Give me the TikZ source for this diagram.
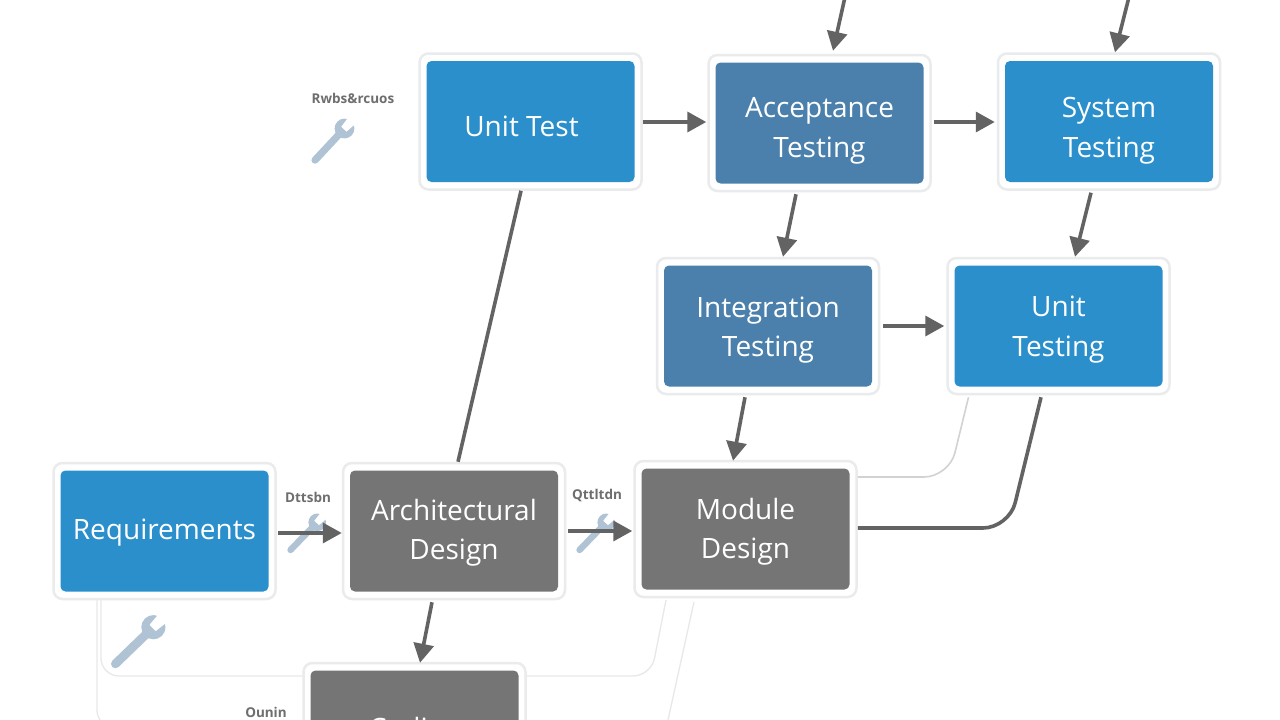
\documentclass[tikz,border=0pt]{standalone}
\usepackage{fontspec}
\setmainfont{Open Sans}
\usetikzlibrary{arrows.meta}
\definecolor{bluebox}{HTML}{2A8FCB}
\definecolor{steelbox}{HTML}{4A80AB}
\definecolor{greybox}{HTML}{757575}
\definecolor{framec}{HTML}{EAEBEC}
\definecolor{arrowc}{HTML}{636363}
\definecolor{thinc}{HTML}{E8E8E8}
\definecolor{curvec}{HTML}{D2D2D2}
\definecolor{toolc}{HTML}{AFC3D5}
\definecolor{smallc}{HTML}{6E6E6E}
\tikzset{
  framebox/.style={draw=framec,line width=2.5pt,fill=white,rounded corners=9pt,minimum width=222pt,minimum height=136pt,inner sep=0pt},
  innerbox/.style={rounded corners=5pt,minimum width=208pt,minimum height=121pt,inner sep=0pt},
  boxtext/.style={text=white,align=center,inner sep=0pt,font=\fontsize{28}{39.5}\selectfont},
  flow/.style={draw=arrowc,line width=3.6pt,-{Triangle[length=19pt,width=20pt]}},
  link/.style={draw=arrowc,line width=3.6pt},
  faint/.style={draw=thinc,line width=1.3pt,rounded corners=18pt},
  small/.style={text=smallc,font=\fontsize{13.5}{15}\selectfont\bfseries,inner sep=0pt},
}
\newcommand{\wrenchtool}[4]{%
  \begin{scope}[shift={(#1,#2)},rotate=#3,scale=#4]
    \draw[toolc,line width=#4*8pt,line cap=round] (-26,0) -- (16,0);
    \fill[toolc] (22,0) circle[radius=11];
    \fill[white] (21,-4) -- (36,-5.5) -- (36,5.5) -- (21,4) -- cycle;
  \end{scope}}
\begin{document}
\begin{tikzpicture}[x=1pt,y=-1pt]
\useasboundingbox (0,0) rectangle (1280,720);
\clip (0,0) rectangle (1280,720);
\fill[white] (0,0) rectangle (1280,720);
% faint outline curves
\draw[faint] (101,600) -- (101,676) -- (303,676);
\draw[faint] (526,676) -- (651,676) -- (666,600);
\draw[faint] (97,600) -- (97,728) -- (300,728);
\draw[faint] (694,602) -- (668,720);
% tools
\wrenchtool{331}{143}{47}{0.9}
\wrenchtool{136}{644}{44}{1.1}
\wrenchtool{305}{535}{46}{0.8}
\wrenchtool{594}{535}{46}{0.8}
% boxes
\node[framebox] (ut) at (530.5,121.5) {};
\node[innerbox,fill=bluebox] (utb) at (ut) {};
\node[boxtext] (utx) at ([xshift=-9pt,yshift=-5pt]ut) {Unit Test};
\node[framebox] (at) at (819.5,123) {};
\node[innerbox,fill=steelbox] (atb) at (at) {};
\node[boxtext] (atx) at ([yshift=-8pt]at) {Acceptance\\Testing};
\node[framebox] (st) at (1109,121.5) {};
\node[innerbox,fill=bluebox] (stb) at (st) {};
\node[boxtext] (stx) at ([yshift=-9pt]st) {System\\Testing};
\node[framebox] (it) at (768,326) {};
\node[innerbox,fill=steelbox] (itb) at (it) {};
\node[boxtext] (itx) at ([yshift=-4pt]it) {Integration\\Testing};
\node[framebox] (un) at (1058.5,326) {};
\node[innerbox,fill=bluebox] (unb) at (un) {};
\node[boxtext] (unx) at ([yshift=-3.5pt]un) {Unit\\Testing};
\node[framebox] (rq) at (164.5,531) {};
\node[innerbox,fill=bluebox] (rqb) at (rq) {};
\node[boxtext] (rqx) at ([yshift=-2pt]rq) {Requirements};
\node[framebox] (ar) at (454,531) {};
\node[innerbox,fill=greybox] (arb) at (ar) {};
\node[boxtext] (arx) at ([yshift=-1.5pt]ar) {Architectural\\Design};
\node[framebox] (md) at (745.5,529) {};
\node[innerbox,fill=greybox] (mdb) at (md) {};
\node[boxtext] (mdx) at ([yshift=-2.5pt]md) {Module\\Design};
\node[framebox] (cd) at (414.5,731) {};
\node[innerbox,fill=greybox] (cdb) at (cd) {};
\node[boxtext] (cdx) at (cd) {Coding};
% free ends at the top edge
\coordinate (topa) at (845,-3);
\coordinate (topb) at (1129,-3);
% connectors
\draw[flow] (topa) -- ([xshift=13.5pt,yshift=3pt]at.north);
\draw[flow] (topb) -- ([xshift=6pt,yshift=0pt]st.north);
\draw[flow] ([yshift=-0.5pt]ut.east) -- ([xshift=-1pt,yshift=1pt]at.west);
\draw[flow] ([xshift=2pt,yshift=1pt]at.east) -- ([xshift=-2pt,yshift=-0.5pt]st.west);
\draw[flow] ([xshift=3pt]it.east) -- ([xshift=-2pt]un.west);
\draw[flow] ([xshift=-23.5pt,yshift=-2pt]at.south) -- ([xshift=15pt,yshift=0pt]it.north);
\draw[flow] ([xshift=-18pt,yshift=-2pt]st.south) -- ([xshift=16.5pt,yshift=0pt]un.north);
\draw[flow] ([xshift=-23pt,yshift=-2pt]it.south) -- ([xshift=-12.5pt,yshift=-1pt]md.north);
\draw[link] ([xshift=-9.5pt]ut.south) -- ([xshift=4pt]ar.north);
\draw[flow] ([xshift=1.5pt,yshift=-2pt]rq.east) -- (ar.west|-{0,533});
\draw[flow] ([xshift=2pt]ar.east) -- ([xshift=-1pt,yshift=-2pt]md.west);
\draw[flow] ([xshift=-22pt,yshift=-2pt]ar.south) -- ([xshift=5.5pt,yshift=-1pt]cd.north);
\draw[draw=curvec,line width=1.6pt,rounded corners=25pt] ([yshift=52pt]md.east) -- (949,477) -- ([xshift=-90pt,yshift=-2pt]un.south);
\draw[link,rounded corners=26pt] ([yshift=1pt]md.east) -- (1009,528) -- ([xshift=-17.5pt,yshift=-2pt]un.south);
% small labels
\node[small] (la) at (353,98) {Rwbs\&rcuos};
\node[small] (lb) at (308,497) {Dttsbn};
\node[small] (lc) at (597,496) {Qttltdn};
\node[small] (ld) at (266,712) {Ounin};
\end{tikzpicture}
\end{document}
